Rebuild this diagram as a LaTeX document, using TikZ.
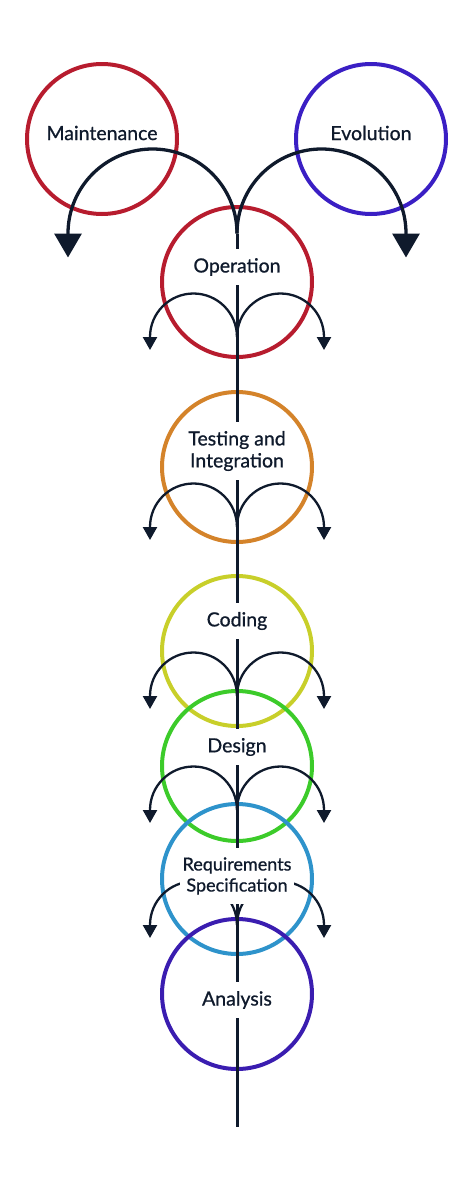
\documentclass[tikz,border=0pt]{standalone}
\usepackage{fontspec}
\setmainfont{Lato}
\newfontfamily\phasefont{Lato}[FakeBold=0.8]
\usetikzlibrary{arrows.meta}

\definecolor{inkdark}{HTML}{0F1A2C}
\definecolor{maintred}{HTML}{B71C2E}
\definecolor{evolblue}{HTML}{3A1FC4}
\definecolor{testorange}{HTML}{D4832A}
\definecolor{codeyellow}{HTML}{C8CF2A}
\definecolor{designgreen}{HTML}{3CCB2A}
\definecolor{reqblue}{HTML}{2E93CB}
\definecolor{analviolet}{HTML}{3A1DB0}

\begin{document}
\begin{tikzpicture}[x=1pt, y=-1pt,
  phase/.style={circle, draw=#1, line width=4pt, minimum size=150pt, inner sep=0pt},
  phasetext/.style={fill=white, text=inkdark, inner xsep=3pt, inner ysep=9pt, align=center,
    font=\phasefont\fontsize{19.5}{22}\selectfont},
  turn/.style={draw=inkdark, line width=2.3pt, -{Triangle[width=14pt,length=13pt]}},
  bigturn/.style={draw=inkdark, line width=3.3pt, -{Triangle[width=27pt,length=24pt]}}]
  \useasboundingbox (0,0) rectangle (474,1189);
  \node[phase=maintred] (maint) at (102,139) {};
  \node[phase=evolblue] (evol) at (371,139) {};
  \node[phase=maintred] (oper) at (237,282) {};
  \node[phase=testorange] (test) at (237,467) {};
  \node[phase=codeyellow] (code) at (237,651) {};
  \node[phase=designgreen] (design) at (237,766) {};
  \node[phase=reqblue] (req) at (237,879) {};
  \node[phase=analviolet] (anal) at (237,994) {};

  \coordinate (top) at (237,233.5);
  \coordinate (bottom) at (237,1127);
  \draw[inkdark, line width=3pt] (top) -- (bottom);
  \path[bigturn] (top) arc[start angle=0, end angle=-180, radius=84.5] -- ++(0,24);
  \path[bigturn] (top) arc[start angle=180, end angle=360, radius=84.5] -- ++(0,24);
  \foreach \n/\y in {oper/337, test/527, code/696, design/810, req/925} {
    \coordinate (\n-b) at (237,\y);
    \path[turn] (\n-b) arc[start angle=0, end angle=-180, radius=43.5] -- ++(0,13);
    \path[turn] (\n-b) arc[start angle=180, end angle=360, radius=43.5] -- ++(0,13);
  }

  \node[phasetext, fill=none] (maint-t) at (102,133) {Maintenance};
  \node[phasetext, fill=none] (evol-t) at (371,133) {Evolution};
  \node[phasetext] (oper-t) at (237,267) {Operation};
  \node[phasetext] (test-t) at (237,451) {Testing and\\Integration};
  \node[phasetext] (code-t) at (237,621) {Coding};
  \node[phasetext] (design-t) at (237,747) {Design};
  \node[phasetext, font=\phasefont\fontsize{18}{21}\selectfont] (req-t) at (237,876) {Requirements\\Specification};
  \node[phasetext] (anal-t) at (237,1000) {Analysis};
\end{tikzpicture}
\end{document}
